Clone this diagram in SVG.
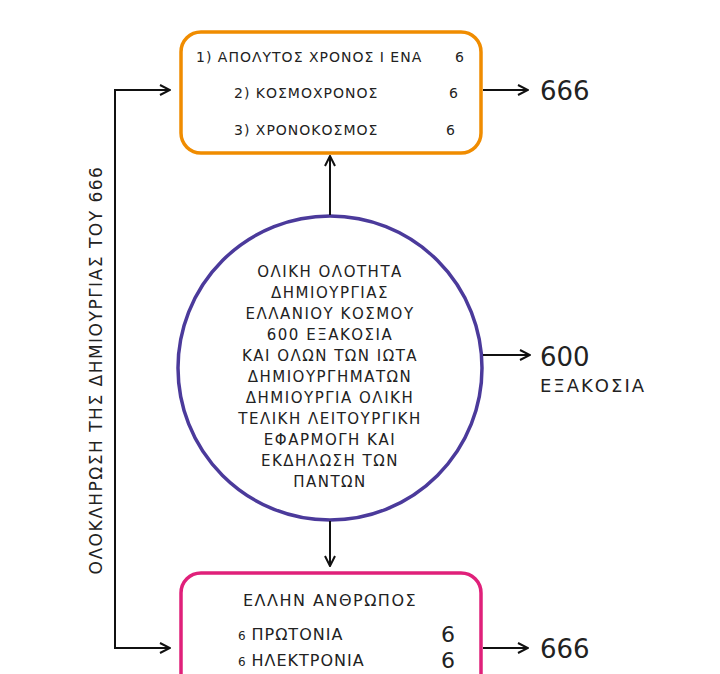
<svg xmlns="http://www.w3.org/2000/svg" width="720" height="674" viewBox="0 0 720 674">
<style>
text{font-family:"DejaVu Sans","Noto Sans",sans-serif;fill:#222;}
.s{font-size:14px;letter-spacing:1px}
.c{font-size:15px;text-anchor:middle;letter-spacing:1.5px}
.b{font-size:26px}
.ln{stroke:#111;stroke-width:2;fill:none}
</style>
<defs><marker id="a" viewBox="0 0 12 12" refX="11" refY="6" markerWidth="12" markerHeight="12" markerUnits="userSpaceOnUse" orient="auto"><path d="M1,1 L11,6 L1,11" fill="none" stroke="#111" stroke-width="2"/></marker></defs>
<rect width="720" height="674" fill="#fff"/>
<g id="top"><rect x="181" y="32" width="300" height="121" rx="20" fill="#fff" stroke="#f08c00" stroke-width="3.5"/>
<text class="s" x="196" y="62">1) ΑΠΟΛΥΤΟΣ ΧΡΟΝΟΣ Ι ΕΝΑ</text><text class="s" x="455" y="62">6</text>
<text class="s" x="234" y="98">2) ΚΟΣΜΟΧΡΟΝΟΣ</text><text class="s" x="449" y="98">6</text>
<text class="s" x="234" y="135">3) ΧΡΟΝΟΚΟΣΜΟΣ</text><text class="s" x="446" y="135">6</text></g>
<g id="circle"><circle cx="330" cy="368" r="152" fill="#fff" stroke="#4b3a9b" stroke-width="3.5"/>
<text class="c" x="330" y="277">ΟΛΙΚΗ ΟΛΟΤΗΤΑ</text>
<text class="c" x="330" y="298">ΔΗΜΙΟΥΡΓΙΑΣ</text>
<text class="c" x="330" y="319">ΕΛΛΑΝΙΟΥ ΚΟΣΜΟΥ</text>
<text class="c" x="330" y="340">600 ΕΞΑΚΟΣΙΑ</text>
<text class="c" x="330" y="361">ΚΑΙ ΟΛΩΝ ΤΩΝ ΙΩΤΑ</text>
<text class="c" x="330" y="382">ΔΗΜΙΟΥΡΓΗΜΑΤΩΝ</text>
<text class="c" x="330" y="403">ΔΗΜΙΟΥΡΓΙΑ ΟΛΙΚΗ</text>
<text class="c" x="330" y="424">ΤΕΛΙΚΗ ΛΕΙΤΟΥΡΓΙΚΗ</text>
<text class="c" x="330" y="445">ΕΦΑΡΜΟΓΗ ΚΑΙ</text>
<text class="c" x="330" y="466">ΕΚΔΗΛΩΣΗ ΤΩΝ</text>
<text class="c" x="330" y="487">ΠΑΝΤΩΝ</text></g>
<g id="bottom"><rect x="181" y="573" width="300" height="130" rx="20" fill="#fff" stroke="#e0207a" stroke-width="3.5"/>
<text class="c" x="330" y="606" style="font-size:16px">ΕΛΛΗΝ ΑΝΘΡΩΠΟΣ</text>
<text class="s" x="238" y="640"><tspan style="font-size:12px">6 </tspan><tspan style="font-size:16px">ΠΡΩΤΟΝΙΑ</tspan></text><text x="441" y="642" style="font-size:22px">6</text>
<text class="s" x="238" y="666"><tspan style="font-size:12px">6 </tspan><tspan style="font-size:16px">ΗΛΕΚΤΡΟΝΙΑ</tspan></text><text x="441" y="668" style="font-size:22px">6</text></g>
<g id="labels">
<text class="b" x="540" y="100">666</text>
<text class="b" x="540" y="366">600</text>
<text x="540" y="392" style="font-size:18px;letter-spacing:2px">ΕΞΑΚΟΣΙΑ</text>
<text class="b" x="540" y="658">666</text>
<text x="102" y="370" transform="rotate(-90 102 370)" style="font-size:17px;text-anchor:middle;letter-spacing:1.5px">ΟΛΟΚΛΗΡΩΣΗ ΤΗΣ ΔΗΜΙΟΥΡΓΙΑΣ ΤΟΥ 666</text>
</g>
<g id="connectors">
<path class="ln" d="M483,90 H528" marker-end="url(#a)"/>
<path class="ln" d="M483,355 H530" marker-end="url(#a)"/>
<path class="ln" d="M483,648 H528" marker-end="url(#a)"/>
<path class="ln" d="M330,215 V156" marker-end="url(#a)"/>
<path class="ln" d="M330,521 V566" marker-end="url(#a)"/>
<path class="ln" d="M170,90 H115 V648 H170" marker-end="url(#a)"/>
<path class="ln" d="M115,90 H170" marker-end="url(#a)"/>
</g>
</svg>
